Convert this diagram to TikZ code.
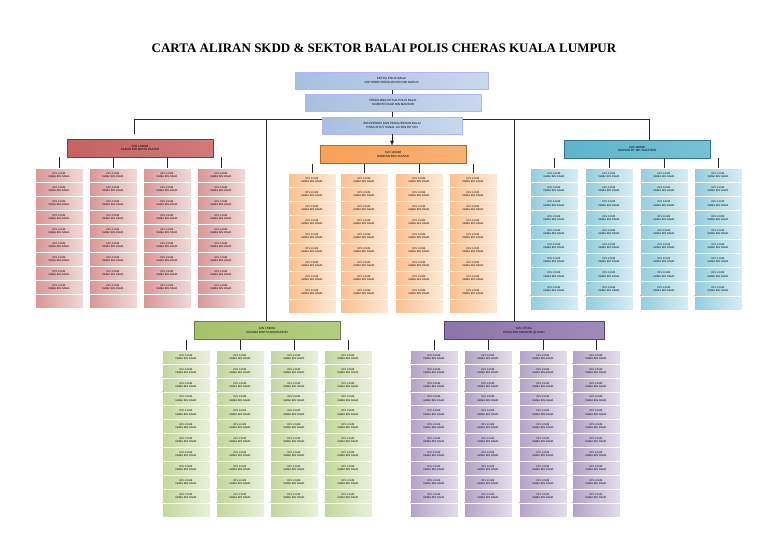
\documentclass[tikz,border=0pt]{standalone}
\usepackage{fontspec}
\setmainfont{Liberation Serif}
\newfontfamily\cellfont{Liberation Sans}
\begin{document}
\begin{tikzpicture}[x=1pt,y=-1pt,
  topbox/.style={draw=white!70!blue,left color=topA,right color=topB,minimum height=17pt,align=center,font=\cellfont\fontsize{3}{3.6}\selectfont,inner sep=0pt},
  hdr/.style={draw=#1!70!black,left color=#1!90!white,right color=#1!75!white,minimum width=146pt,minimum height=18pt,align=center,font=\cellfont\fontsize{3}{3.6}\selectfont,inner sep=0pt},
  cell/.style={draw=white,left color=#1!60!white,right color=#1!22!white,minimum width=48pt,align=center,font=\cellfont\fontsize{2.6}{3.2}\selectfont,inner sep=0pt},
  ln/.style={draw=black!85,line width=0.8pt}]
\definecolor{cred}{HTML}{C0504D}
\definecolor{corg}{HTML}{F79646}
\definecolor{ccya}{HTML}{4BACC6}
\definecolor{cgrn}{HTML}{9BBB59}
\definecolor{cpur}{HTML}{8064A2}
\definecolor{topA}{HTML}{A7BFDE}
\definecolor{topB}{HTML}{C9D8EC}
\useasboundingbox (0,0) rectangle (768,543);
\fill[white] (0,0) rectangle (768,543);
\node[font=\bfseries\fontsize{13}{15}\selectfont] (title) at (384,48) {CARTA ALIRAN SKDD \& SEKTOR BALAI POLIS CHERAS KUALA LUMPUR};
% lines behind
\draw[ln] (134,134) -- (134,119) -- (649,119) -- (649,140);
\draw[ln] (266,119) -- (266,322);
\draw[ln] (514,119) -- (514,322);
\draw[ln] (392,80) -- (392,143);
\node[topbox,minimum width=193pt] (k1) at (391.5,80.5) {KETUA POLIS BALAI\\ASP MOHD REDZUAN BIN MD DARUS};
\node[topbox,minimum width=176pt] (k2) at (393,102.5) {PENOLONG KETUA POLIS BALAI\\SI MOHD DAUD BIN MANSOR};
\node[topbox,minimum width=140pt] (k3) at (392,125.5) {SM OPERASI DAN PENGURUSAN BALAI\\P/SM LOTUT SANAL ALI BIN BIT DIN};
\draw[ln,-latex] (k3.south) -- (392,146);
\node[hdr=cred] (hred) at (140,148) {SJN 139808\\KADAR BIN MOHD RASHID};
\node[hdr=corg] (horg) at (393,154.5) {SJN 118948\\HAMDAN BIN HASSAN};
\node[hdr=ccya] (hcya) at (637,149) {SJN 118849\\HASSAN BT MD TAJUDDIN};
\node[hdr=cgrn] (hgrn) at (267,330.5) {SJN 159802\\SUZANA BINTI KAMARUDDIN};
\node[hdr=cpur,minimum width=160pt] (hpur) at (524,330.5) {SJN 157311\\ROSLI BIN MANSOR @ AYAH};
% stacks
\newcommand\cellstack[6]{%
  \foreach \i in {1,...,#4}{%
    \pgfmathsetmacro\cy{#3+(\i-0.5)*#5}%
    \ifnum\i=#4\relax
      \node[cell=#6,minimum height=#5pt] (#1-\i) at ({#2+24},\cy) {};
    \else
      \node[cell=#6,minimum height=#5pt] (#1-\i) at ({#2+24},\cy) {KPL 12345\\NAMA BIN NAMA};
    \fi}}
\cellstack{ra}{35}{168}{10}{14}{cred}
\cellstack{rb}{89}{168}{10}{14}{cred}
\cellstack{rc}{143}{168}{10}{14}{cred}
\cellstack{rd}{197}{168}{10}{14}{cred}
\cellstack{oa}{288}{173}{10}{14}{corg}
\cellstack{ob}{340}{173}{10}{14}{corg}
\cellstack{oc}{395}{173}{10}{14}{corg}
\cellstack{od}{449}{173}{10}{14}{corg}
\cellstack{ca}{530}{168}{10}{14.2}{ccya}
\cellstack{cb}{585}{168}{10}{14.2}{ccya}
\cellstack{cc}{640}{168}{10}{14.2}{ccya}
\cellstack{cd}{694}{168}{10}{14.2}{ccya}
\cellstack{ga}{162}{350}{12}{13.9}{cgrn}
\cellstack{gb}{216}{350}{12}{13.9}{cgrn}
\cellstack{gc}{270}{350}{12}{13.9}{cgrn}
\cellstack{gd}{324}{350}{12}{13.9}{cgrn}
\cellstack{pa}{410}{350}{12}{13.9}{cpur}
\cellstack{pb}{464}{350}{12}{13.9}{cpur}
\cellstack{pc}{519}{350}{12}{13.9}{cpur}
\cellstack{pd}{572}{350}{12}{13.9}{cpur}
% connectors header -> stacks
\foreach \c in {ra,rb,rc,rd}{\draw[ln] (hred.south -| \c-1.north) -- (\c-1.north);}
\foreach \c in {oa,ob,oc,od}{\draw[ln] (horg.south -| \c-1.north) -- (\c-1.north);}
\foreach \c in {ca,cb,cc,cd}{\draw[ln] (hcya.south -| \c-1.north) -- (\c-1.north);}
\foreach \c in {ga,gb,gc,gd}{\draw[ln] (hgrn.south -| \c-1.north) -- (\c-1.north);}
\foreach \c in {pa,pb,pc,pd}{\draw[ln] (hpur.south -| \c-1.north) -- (\c-1.north);}
\end{tikzpicture}
\end{document}
